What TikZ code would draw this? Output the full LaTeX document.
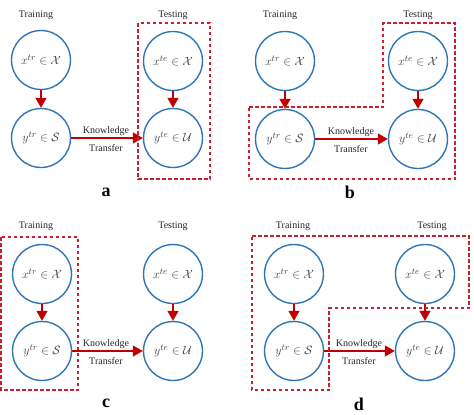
\documentclass[tikz,border=0pt]{standalone}
\usepackage{fontspec}
\setmainfont{Liberation Serif}
\usetikzlibrary{arrows.meta}
\definecolor{cblue}{HTML}{2E75B6}
\definecolor{cred}{HTML}{C00000}
\definecolor{cdash}{HTML}{C8202E}
\definecolor{ctext}{HTML}{404040}
\tikzset{
  var/.style={circle, draw=cblue, line width=1.4pt, minimum size=59pt, inner sep=0pt, text=ctext, font=\fontsize{12.5}{14}\selectfont},
  flow/.style={draw=cred, line width=1.4pt, -{Triangle[length=10pt,width=11pt]}},
  lab/.style={font=\fontsize{10}{12}\selectfont, text=black!85},
  panel/.style={font=\fontsize{18}{20}\selectfont\bfseries},
  region/.style={draw=cdash, line width=1.2pt, dash pattern=on 3.5pt off 2.5pt}
}
\newcommand{\xtr}{$x^{tr}\in\mathcal{X}$}
\newcommand{\xte}{$x^{te}\in\mathcal{X}$}
\newcommand{\ytr}{$y^{tr}\in\mathcal{S}$}
\newcommand{\yte}{$y^{te}\in\mathcal{U}$}
\begin{document}
\begin{tikzpicture}[x=1pt,y=-1pt]
\useasboundingbox (0,0) rectangle (474,415);
% ---------- panel a ----------
\node[lab] (aTr) at (36,15) {Training};
\node[lab] (aTe) at (173,15) {Testing};
\node[var] (ax1) at (41,60) {\xtr};
\node[var] (ay1) at (41,138) {\ytr};
\node[var] (ax2) at (173,61) {\xte};
\node[var] (ay2) at (173,138) {\yte};
\draw[flow] (ax1) -- (ay1);
\draw[flow] (ax2) -- (ay2);
\draw[flow] (ay1) -- (ay2);
\node[lab] (aK) at (106,131) {Knowledge};
\node[lab] (aT) at (106,148) {Transfer};
\draw[region] (138,23) rectangle (210,179);
\node[panel] (aP) at (106,192) {a};
% ---------- panel b ----------
\node[lab] (bTr) at (280,15) {Training};
\node[lab] (bTe) at (418,15) {Testing};
\node[var] (bx1) at (285,61) {\xtr};
\node[var] (by1) at (285,139) {\ytr};
\node[var] (bx2) at (418,61) {\xte};
\node[var] (by2) at (418,139) {\yte};
\draw[flow] (bx1) -- (by1);
\draw[flow] (bx2) -- (by2);
\draw[flow] (by1) -- (by2);
\node[lab] (bK) at (351,132) {Knowledge};
\node[lab] (bT) at (351,149) {Transfer};
\draw[region] (249,107) -- (383,107) -- (383,23) -- (455,23) -- (455,179) -- (249,179) -- cycle;
\node[panel] (bP) at (350,192) {b};
% ---------- panel c ----------
\node[lab] (cTr) at (36,226) {Training};
\node[lab] (cTe) at (173,226) {Testing};
\node[var] (cx1) at (42,274) {\xtr};
\node[var] (cy1) at (42,351) {\ytr};
\node[var] (cx2) at (173,274) {\xte};
\node[var] (cy2) at (173,351) {\yte};
\draw[flow] (cx1) -- (cy1);
\draw[flow] (cx2) -- (cy2);
\draw[flow] (cy1) -- (cy2);
\node[lab] (cK) at (106,344) {Knowledge};
\node[lab] (cT) at (106,361) {Transfer};
\draw[region] (1,237) rectangle (78,390);
\node[panel] (cP) at (106,403) {c};
% ---------- panel d ----------
\node[lab] (dTr) at (293,226) {Training};
\node[lab] (dTe) at (432,226) {Testing};
\node[var] (dx1) at (294,274) {\xtr};
\node[var] (dy1) at (294,351) {\ytr};
\node[var] (dx2) at (425,274) {\xte};
\node[var] (dy2) at (425,351) {\yte};
\draw[flow] (dx1) -- (dy1);
\draw[flow] (dx2) -- (dy2);
\draw[flow] (dy1) -- (dy2);
\node[lab] (dK) at (359,344) {Knowledge};
\node[lab] (dT) at (359,361) {Transfer};
\draw[region] (252,236) -- (469,236) -- (469,308) -- (329,308) -- (329,390) -- (252,390) -- cycle;
\node[panel] (dP) at (359,404) {d};
\end{tikzpicture}
\end{document}
